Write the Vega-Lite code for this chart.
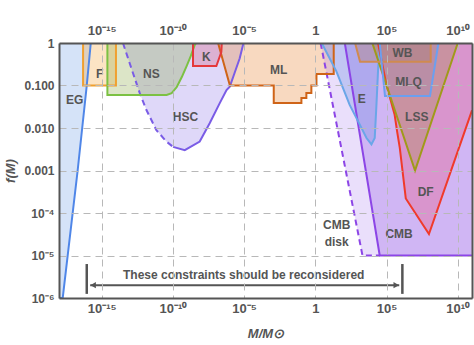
{
 "$schema": "https://vega.github.io/schema/vega-lite/v6.json",
 "width": 413, "height": 255,
 "autosize": "none",
 "padding": {"left": 59, "top": 43, "right": 2, "bottom": 47},
 "background": "white",
 "config": {"view": {"stroke": null}, "font": "Liberation Sans"},
 "datasets": {
  "regions": [
   {"r":"EG","m":1e-18,"f":1e-6},{"r":"EG","m":1.82e-18,"f":1e-6},{"r":"EG","m":2.04e-17,"f":1e-3},{"r":"EG","m":8.9e-17,"f":0.1},{"r":"EG","m":1.7e-16,"f":1},
   {"r":"F","m":4.9e-17,"f":1},{"r":"F","m":4.9e-17,"f":0.1},{"r":"F","m":1e-14,"f":0.1},{"r":"F","m":1e-14,"f":1},
   {"r":"HSC","m":3.1e-14,"f":1},{"r":"HSC","m":1.58e-13,"f":0.194},{"r":"HSC","m":4.7e-13,"f":0.066},{"r":"HSC","m":1.38e-12,"f":0.0265},{"r":"HSC","m":6.9e-12,"f":0.0089},{"r":"HSC","m":3.5e-11,"f":0.0048},{"r":"HSC","m":1.02e-10,"f":0.0036},{"r":"HSC","m":6.8e-10,"f":0.003},{"r":"HSC","m":7.6e-9,"f":0.0048},{"r":"HSC","m":3.8e-8,"f":0.0129},{"r":"HSC","m":1.9e-7,"f":0.038},{"r":"HSC","m":5.8e-7,"f":0.078},{"r":"HSC","m":9.8e-7,"f":0.094},{"r":"HSC","m":2.1e-6,"f":0.194},{"r":"HSC","m":4.9e-6,"f":0.436},{"r":"HSC","m":8.3e-6,"f":0.9},{"r":"HSC","m":9.3e-6,"f":1},
   {"r":"NS","m":2.5e-15,"f":1},{"r":"NS","m":2.5e-15,"f":0.06},{"r":"NS","m":3.6e-11,"f":0.06},{"r":"NS","m":8.1e-11,"f":0.066},{"r":"NS","m":1.86e-10,"f":0.092},{"r":"NS","m":4.2e-10,"f":0.158},{"r":"NS","m":9.3e-10,"f":0.29},{"r":"NS","m":1.78e-9,"f":0.49},{"r":"NS","m":3.4e-9,"f":0.9},{"r":"NS","m":4.3e-9,"f":1},
   {"r":"ML","m":1.48e-7,"f":1},{"r":"ML","m":1e-6,"f":0.1},{"r":"ML","m":1.2e-3,"f":0.1},{"r":"ML","m":1.2e-3,"f":0.039},{"r":"ML","m":0.105,"f":0.039},{"r":"ML","m":0.105,"f":0.051},{"r":"ML","m":0.234,"f":0.051},{"r":"ML","m":0.234,"f":0.067},{"r":"ML","m":0.525,"f":0.067},{"r":"ML","m":0.525,"f":0.1},{"r":"ML","m":1.2,"f":0.1},{"r":"ML","m":1.2,"f":0.187},{"r":"ML","m":19.5,"f":0.187},{"r":"ML","m":19.5,"f":1},
   {"r":"K","m":2.57e-9,"f":1},{"r":"K","m":2.57e-9,"f":0.288},{"r":"K","m":1.12e-7,"f":0.288},{"r":"K","m":2.5e-7,"f":0.61},{"r":"K","m":2.7e-7,"f":1},
   {"r":"CMB disk","m":2.34,"f":1},{"r":"CMB disk","m":2040,"f":1e-5},{"r":"CMB disk","m":33100,"f":1e-5},{"r":"CMB disk","m":1e11,"f":1e-5},
   {"r":"CMB","m":117,"f":1},{"r":"CMB","m":33100,"f":1e-5},{"r":"CMB","m":1e11,"f":1e-5},
   {"r":"E","m":2.8,"f":1},{"r":"E","m":30,"f":0.215},{"r":"E","m":257,"f":0.035},{"r":"E","m":1320,"f":0.012},{"r":"E","m":3900,"f":0.0058},{"r":"E","m":8700,"f":0.0041},{"r":"E","m":14800,"f":0.0058},{"r":"E","m":19500,"f":0.035},{"r":"E","m":25100,"f":0.215},{"r":"E","m":33100,"f":1},
   {"r":"DF","m":25100,"f":1},{"r":"DF","m":97700,"f":0.104},{"r":"DF","m":370000,"f":0.0205},{"r":"DF","m":550000,"f":0.0083},{"r":"DF","m":850000,"f":0.0034},{"r":"DF","m":2.24e6,"f":2.2e-4},{"r":"DF","m":9.5e7,"f":3.2e-5},{"r":"DF","m":1e11,"f":0.026},
   {"r":"LSS","m":1e4,"f":1},{"r":"LSS","m":1e7,"f":1e-3},{"r":"LSS","m":1e10,"f":1},
   {"r":"WB","m":617,"f":1},{"r":"WB","m":1380,"f":0.36},{"r":"WB","m":1.26e8,"f":0.36},{"r":"WB","m":1.26e8,"f":1},
   {"r":"MLQ","m":33100,"f":1},{"r":"MLQ","m":77600,"f":0.057},{"r":"MLQ","m":1.12e8,"f":0.057},{"r":"MLQ","m":4.4e8,"f":1}
  ],
  "labels": [
   {"t":"EG","m":1.26e-17,"f":0.046},{"t":"F","m":7.2e-16,"f":0.19},{"t":"NS","m":3.1e-12,"f":0.186},{"t":"K","m":2.24e-8,"f":0.46},{"t":"HSC","m":7.6e-10,"f":0.018},{"t":"ML","m":2.7e-3,"f":0.235},{"t":"E","m":1820,"f":0.047},{"t":"WB","m":1.32e6,"f":0.57},{"t":"MLQ","m":3.47e6,"f":0.123},{"t":"LSS","m":1.32e7,"f":0.018},{"t":"DF","m":5.6e7,"f":3.2e-4},{"t":"CMB","m":7.6e5,"f":3.2e-5},{"t":"CMB","m":31.6,"f":5.2e-5},{"t":"disk","m":31.6,"f":2.1e-5},
   {"t":"These constraints should be reconsidered","m":9.3e-6,"f":3.47e-6}
  ]
 },
 "resolve": {"axis": {"x": "independent", "y": "independent"}},
 "layer": [
  {
   "data": {"name": "regions"},
   "mark": {"type": "area", "clip": true},
   "encoding": {
    "x": {"field": "m", "type": "quantitative", "scale": {"type": "log", "domain": [1e-18, 1e11], "nice": false},
     "axis": {"orient": "bottom", "values": [1e-15, 1e-10, 1e-5, 1, 1e5, 1e10],
      "labelExpr": "datum.value == 1 ? '1' : datum.value < 1e-12 ? '10⁻¹⁵' : datum.value < 1e-7 ? '10⁻¹⁰' : datum.value < 0.1 ? '10⁻⁵' : datum.value < 1e7 ? '10⁵' : '10¹⁰'",
      "grid": true, "gridColor": "#b8b8b8", "gridDash": [7, 5], "gridWidth": 1, "ticks": false,
      "domainColor": "#555", "domainWidth": 2, "labelFont": "Liberation Sans", "labelFontSize": 13, "labelFontWeight": "bold", "labelColor": "#555", "labelPadding": 4,
      "title": "M/M⊙", "titleFont": "Liberation Sans", "titleFontStyle": "italic", "titleFontWeight": "bold", "titleFontSize": 13, "titleColor": "#555", "titlePadding": 12, "zindex": 1}},
    "y": {"field": "f", "type": "quantitative", "scale": {"type": "log", "domain": [1e-6, 1], "nice": false},
     "axis": {"orient": "left", "values": [1e-6, 1e-5, 1e-4, 1e-3, 1e-2, 1e-1, 1],
      "labelExpr": "datum.value > 0.5 ? '1' : datum.value > 0.05 ? '0.100' : datum.value > 0.005 ? '0.010' : datum.value > 0.0005 ? '0.001' : datum.value > 5e-5 ? '10⁻⁴' : datum.value > 5e-6 ? '10⁻⁵' : '10⁻⁶'",
      "grid": true, "gridColor": "#b8b8b8", "gridDash": [7, 5], "gridWidth": 1, "ticks": false,
      "domainColor": "#555", "domainWidth": 2, "labelFont": "Liberation Sans", "labelFontSize": 12, "labelFontWeight": "bold", "labelColor": "#555", "labelPadding": 5,
      "title": "f(M)", "titleFont": "Liberation Sans", "titleFontStyle": "italic", "titleFontWeight": "bold", "titleFontSize": 13, "titleColor": "#555", "titlePadding": 6, "zindex": 1}},
    "y2": {"datum": 1},
    "fill": {"field": "r", "type": "nominal", "legend": null,
     "scale": {"domain": ["EG","F","HSC","NS","ML","K","CMB disk","CMB","E","DF","LSS","WB","MLQ"],
      "range": ["rgba(100,150,230,0.27)","rgba(245,165,60,0.3)","rgba(140,115,235,0.28)","rgba(140,170,70,0.3)","rgba(235,150,80,0.36)","rgba(215,85,120,0.3)","rgba(180,140,240,0.28)","rgba(150,90,230,0.3)","rgba(100,140,225,0.3)","rgba(235,80,125,0.32)","rgba(165,140,60,0.3)","rgba(185,115,80,0.3)","rgba(120,130,190,0.18)"]}},
    "order": {"value": null}
   }
  },
  {
   "data": {"name": "regions"},
   "transform": [{"filter": "(datum.r == 'CMB disk' && datum.m < 1e5) || (datum.r == 'HSC' && datum.m < 1.1e-10)"}],
   "mark": {"type": "line", "strokeWidth": 2, "strokeDash": [6, 4], "clip": true},
   "encoding": {
    "x": {"field": "m", "type": "quantitative", "axis": null},
    "y": {"field": "f", "type": "quantitative", "axis": null},
    "stroke": {"field": "r", "type": "nominal", "legend": null,
     "scale": {"domain": ["EG","F","HSC","NS","ML","K","CMB disk","CMB","E","DF","LSS","WB","MLQ"],
      "range": ["#4f86e8","#f0a030","#7a5ce6","#7cc143","#cf6418","#e5383b","#8c45e6","#8c45e6","#6aa6e8","#f03a2a","#a09a1a","#d08a50","#6b9ff0"]}},
    "order": {"value": null}
   }
  },
  {
   "data": {"name": "regions"},
   "transform": [{"filter": "datum.r != 'CMB disk' && !(datum.r == 'HSC' && datum.m < 1e-10)"}],
   "mark": {"type": "line", "strokeWidth": 2, "clip": true},
   "encoding": {
    "x": {"field": "m", "type": "quantitative", "axis": null},
    "y": {"field": "f", "type": "quantitative", "axis": null},
    "stroke": {"field": "r", "type": "nominal", "legend": null,
     "scale": {"domain": ["EG","F","HSC","NS","ML","K","CMB disk","CMB","E","DF","LSS","WB","MLQ"],
      "range": ["#4f86e8","#f0a030","#7a5ce6","#7cc143","#cf6418","#e5383b","#8c45e6","#8c45e6","#6aa6e8","#f03a2a","#a09a1a","#d08a50","#6b9ff0"]}},
    "order": {"value": null}
   }
  },
  {
   "data": {"values": [{"m": 1.55e-16, "m2": 7.8e5, "f": 2e-6}]},
   "mark": {"type": "rule", "color": "#555", "strokeWidth": 2},
   "encoding": {
    "x": {"field": "m", "type": "quantitative", "axis": null},
    "x2": {"field": "m2"},
    "y": {"field": "f", "type": "quantitative", "axis": null}
   }
  },
  {
   "data": {"values": [{"m": 8.9e-17, "f": 1.25e-6, "f2": 6.3e-6}, {"m": 1.29e6, "f": 1.25e-6, "f2": 6.3e-6}]},
   "mark": {"type": "rule", "color": "#555", "strokeWidth": 2.5},
   "encoding": {
    "x": {"field": "m", "type": "quantitative", "axis": null},
    "y": {"field": "f", "type": "quantitative", "axis": null},
    "y2": {"field": "f2"}
   }
  },
  {
   "data": {"values": [{"m": 2.5e-16, "f": 2e-6, "s": "triangle-left"}, {"m": 4.8e5, "f": 2e-6, "s": "triangle-right"}]},
   "mark": {"type": "point", "filled": true, "color": "#555", "size": 40, "opacity": 1},
   "encoding": {
    "x": {"field": "m", "type": "quantitative", "axis": null},
    "y": {"field": "f", "type": "quantitative", "axis": null},
    "shape": {"field": "s", "type": "nominal", "scale": null, "legend": null}
   }
  },
  {
   "data": {"name": "labels"},
   "mark": {"type": "text", "font": "Liberation Sans", "fontWeight": "bold", "fontSize": 12, "color": "#555"},
   "encoding": {
    "x": {"field": "m", "type": "quantitative",
     "axis": {"orient": "top", "values": [1e-15, 1e-10, 1e-5, 1, 1e5, 1e10],
      "labelExpr": "datum.value == 1 ? '1' : datum.value < 1e-12 ? '10⁻¹⁵' : datum.value < 1e-7 ? '10⁻¹⁰' : datum.value < 0.1 ? '10⁻⁵' : datum.value < 1e7 ? '10⁵' : '10¹⁰'",
      "grid": false, "ticks": false, "domainColor": "#555", "domainWidth": 2, "labelFont": "Liberation Sans", "labelFontSize": 13, "labelFontWeight": "bold", "labelColor": "#555", "labelPadding": 6, "title": null, "zindex": 1}},
    "y": {"field": "f", "type": "quantitative",
     "axis": {"orient": "right", "labels": false, "ticks": false, "grid": false, "domainColor": "#555", "domainWidth": 2, "title": null, "zindex": 1}},
    "text": {"field": "t"}
   }
  }
 ]
}
